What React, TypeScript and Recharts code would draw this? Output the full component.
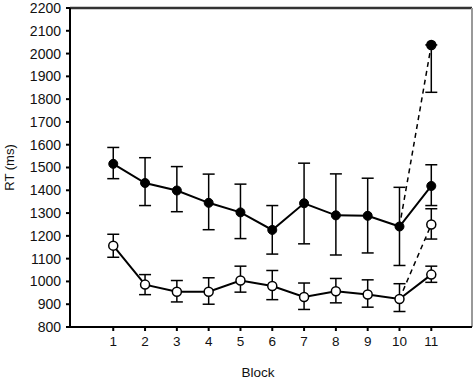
import {
  LineChart,
  Line,
  XAxis,
  YAxis,
  ErrorBar,
  ReferenceLine,
} from "recharts";

const blocks = [1, 2, 3, 4, 5, 6, 7, 8, 9, 10, 11];

// filled circles
const filledMean = [1516, 1432, 1399, 1345, 1303, 1226, 1343, 1290, 1288, 1241, 1419];
const filledLow = [1451, 1333, 1306, 1227, 1188, 1120, 1165, 1116, 1125, 1070, 1333];
const filledHigh = [1588, 1543, 1504, 1471, 1427, 1333, 1519, 1472, 1453, 1413, 1512];

// open circles
const openMean = [1157, 986, 955, 955, 1004, 980, 932, 957, 943, 923, 1030];
const openLow = [1106, 942, 910, 900, 953, 920, 877, 906, 887, 868, 996];
const openHigh = [1207, 1030, 1004, 1016, 1067, 1048, 993, 1013, 1007, 990, 1067];

// alternative block 11 values (dashed from block 10)
const altFilled = { mean: 2038, low: 1830, high: 2038 };
const altOpen = { mean: 1250, low: 1186, high: 1319 };

const yTicks = [800, 900, 1000, 1100, 1200, 1300, 1400, 1500, 1600, 1700, 1800, 1900, 2000, 2100, 2200];

const last = blocks.length - 1;
const data = blocks.map((b, i) => ({
  block: b,
  filled: filledMean[i],
  filledErr: [filledMean[i] - filledLow[i], filledHigh[i] - filledMean[i]],
  open: openMean[i],
  openErr: [openMean[i] - openLow[i], openHigh[i] - openMean[i]],
  dashFilled: i === last - 1 ? filledMean[i] : i === last ? altFilled.mean : null,
  dashFilledErr: i === last ? [altFilled.mean - altFilled.low, altFilled.high - altFilled.mean] : null,
  dashOpen: i === last - 1 ? openMean[i] : i === last ? altOpen.mean : null,
  dashOpenErr: i === last ? [altOpen.mean - altOpen.low, altOpen.high - altOpen.mean] : null,
}));

const font = { fontFamily: "Liberation Sans, Arial, sans-serif", fontSize: 13.5, fill: "#111" };

const lastDot = (filled: boolean) => (props: any) => {
  const { cx, cy, index } = props;
  if (index !== last || cx == null || cy == null) return <g key={index} />;
  return (
    <circle
      key={index}
      cx={cx}
      cy={cy}
      r={4.5}
      fill={filled ? "#000" : "#fff"}
      stroke="#000"
      strokeWidth={1.5}
    />
  );
};

export default function App() {
  return (
    <div style={{ position: "absolute", left: 0, top: 0, background: "#fff" }}>
      <LineChart
        width={474}
        height={379}
        data={data}
        margin={{ top: 8, right: 2, left: 0, bottom: 0 }}
      >
        <XAxis
          dataKey="block"
          type="number"
          domain={[-0.36, 12.28]}
          ticks={blocks}
          interval={0}
          allowDataOverflow
          height={52}
          stroke="#000"
          strokeWidth={2}
          tickSize={4}
          tickMargin={5}
          tick={font}
          label={{ value: "Block", position: "insideBottom", offset: 2, dx: -13, ...font }}
        />
        <YAxis
          type="number"
          domain={[800, 2200]}
          ticks={yTicks}
          interval={0}
          allowDataOverflow
          width={70}
          stroke="#000"
          strokeWidth={2}
          tickSize={4}
          tickMargin={5}
          tick={{ ...font, fontSize: 14 }}
          label={{ value: "RT (ms)", angle: -90, position: "center", dx: -26, ...font, fontSize: 13 }}
        />
        <ReferenceLine y={2200} stroke="#333" strokeWidth={2.5} />
        <ReferenceLine x={12.28} stroke="#999" strokeWidth={2} />
        <Line
          dataKey="dashFilled"
          stroke="#000"
          strokeWidth={1.5}
          strokeDasharray="5 4"
          dot={lastDot(true)}
          activeDot={false}
          isAnimationActive={false}
        >
          <ErrorBar dataKey="dashFilledErr" width={6} stroke="#000" strokeWidth={1.5} />
        </Line>
        <Line
          dataKey="dashOpen"
          stroke="#000"
          strokeWidth={1.5}
          strokeDasharray="5 4"
          dot={lastDot(false)}
          activeDot={false}
          isAnimationActive={false}
        >
          <ErrorBar dataKey="dashOpenErr" width={6} stroke="#000" strokeWidth={1.5} />
        </Line>
        <Line
          dataKey="filled"
          stroke="#000"
          strokeWidth={2}
          dot={{ r: 4.5, fill: "#000", stroke: "#000", strokeWidth: 1 }}
          activeDot={false}
          isAnimationActive={false}
        >
          <ErrorBar dataKey="filledErr" width={6} stroke="#000" strokeWidth={1.5} />
        </Line>
        <Line
          dataKey="open"
          stroke="#000"
          strokeWidth={2}
          dot={{ r: 4.5, fill: "#fff", stroke: "#000", strokeWidth: 1.5 }}
          activeDot={false}
          isAnimationActive={false}
        >
          <ErrorBar dataKey="openErr" width={6} stroke="#000" strokeWidth={1.5} />
        </Line>
      </LineChart>
    </div>
  );
}
